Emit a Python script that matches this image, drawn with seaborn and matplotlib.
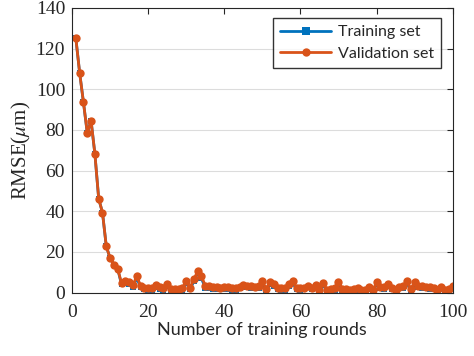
import numpy as np
import pandas as pd
import matplotlib
matplotlib.use('Agg')
import matplotlib.pyplot as plt
import seaborn as sns

# ---- data ----
rounds = list(range(1, 101))

val_rmse = [125.0, 108.0, 93.5, 78.5, 84.5, 68.2, 46.2, 39.3, 22.7, 17.0,
            13.8, 11.6, 4.6, 5.5, 5.2, 3.8, 8.0, 3.5, 2.5, 2.2,
            2.5, 3.8, 2.8, 2.2, 4.0, 2.0, 1.8, 2.0, 2.2, 5.8,
            2.5, 6.5, 10.5, 8.0, 3.5, 3.2, 3.0, 2.8, 2.5, 2.8,
            2.6, 2.2, 2.5, 3.0, 3.8, 3.5, 3.2, 3.0, 3.2, 5.5,
            2.0, 5.0, 4.0, 2.5, 2.2, 2.5, 4.0, 5.5, 2.5, 2.2,
            2.5, 3.5, 2.5, 3.8, 1.5, 4.5, 1.5, 1.8, 2.2, 5.2,
            2.0, 1.8, 1.5, 2.0, 2.2, 1.5, 1.2, 2.8, 1.2, 5.0,
            3.0, 2.8, 4.0, 2.5, 1.2, 3.0, 3.2, 5.5, 2.0, 5.0,
            3.5, 3.2, 3.0, 2.8, 2.5, 1.5, 2.8, 1.2, 2.0, 3.5]

train_rmse = [125.0, 108.0, 93.5, 78.5, 84.5, 68.2, 46.2, 39.3, 22.7, 17.0,
              13.8, 11.6, 4.0, 4.6, 4.3, 2.8, 7.2, 2.6, 1.6, 1.3,
              1.5, 2.9, 1.8, 1.2, 3.1, 1.1, 0.9, 1.0, 0.6, 4.9,
              1.6, 5.6, 9.6, 7.0, 2.4, 2.2, 2.0, 1.9, 1.6, 1.9,
              1.7, 1.3, 1.5, 2.1, 2.9, 2.6, 2.3, 2.1, 2.3, 4.6,
              1.1, 4.1, 3.1, 1.6, 1.3, 1.5, 3.1, 4.6, 1.6, 1.3,
              1.6, 2.6, 1.6, 2.9, 0.7, 3.6, 0.7, 0.9, 1.3, 4.3,
              1.1, 0.9, 0.7, 1.1, 1.3, 0.6, 0.4, 1.9, 0.4, 4.1,
              2.1, 1.9, 3.1, 1.6, 0.4, 2.1, 2.3, 4.6, 1.1, 4.1,
              2.6, 2.3, 2.1, 1.9, 1.6, 0.7, 1.9, 0.5, 1.1, 2.6]

series_names = ['Training set', 'Validation set']

df = pd.DataFrame({
    'round': rounds * 2,
    'rmse': train_rmse + val_rmse,
    'set': [series_names[0]] * len(rounds) + [series_names[1]] * len(rounds),
})

# ---- style ----
sns.set_style('white')
plt.rcParams['font.family'] = ['Liberation Serif', 'DejaVu Serif']
plt.rcParams['mathtext.fontset'] = 'stix'
plt.rcParams['xtick.direction'] = 'in'
plt.rcParams['ytick.direction'] = 'in'

fig = plt.figure(figsize=(4.74, 3.56), dpi=100)
ax = fig.add_axes([0.152, 0.178, 0.803, 0.800])

sns.lineplot(data=df, x='round', y='rmse', hue='set', style='set',
             markers={'Training set': 's', 'Validation set': 'o'},
             dashes=False, palette=['#0072BD', '#D95319'],
             linewidth=2.0, markersize=6, markeredgewidth=0, ax=ax)
# the training squares are a bit smaller than the circles in the reference
ax.lines[0].set_markersize(4.5)

ax.set_xlim(0, 100)
ax.set_ylim(0, 140)
ax.set_xticks([0, 20, 40, 60, 80, 100])
ax.set_yticks([0, 20, 40, 60, 80, 100, 120, 140])
ax.tick_params(axis='both', labelsize=14, top=True, right=True,
               length=4, width=0.8, color='#262626')
ax.tick_params(axis='x', pad=8)
ax.tick_params(axis='y', pad=5)
for lab in ax.get_xticklabels() + ax.get_yticklabels():
    lab.set_family(['Liberation Serif', 'DejaVu Serif'])
ax.yaxis.grid(True, color='#dcdcdc', linewidth=0.8)
ax.set_axisbelow(True)
for s in ax.spines.values():
    s.set_color('#262626')
    s.set_linewidth(0.8)

ax.set_xlabel('Number of training rounds', fontsize=13,
              family=['Lato', 'DejaVu Sans'], labelpad=1)
ax.set_ylabel('RMSE($\\mu$m)', fontsize=15, labelpad=2)

leg = ax.legend(loc='upper right', bbox_to_anchor=(0.969, 0.965),
                frameon=True, fancybox=False, edgecolor='black',
                prop={'family': ['Lato', 'DejaVu Sans'], 'size': 11.5},
                handlelength=3.2, borderpad=0.45, labelspacing=0.45,
                handletextpad=0.4, borderaxespad=0)
leg.get_frame().set_linewidth(1.0)

fig.savefig('out.png', dpi=100)
